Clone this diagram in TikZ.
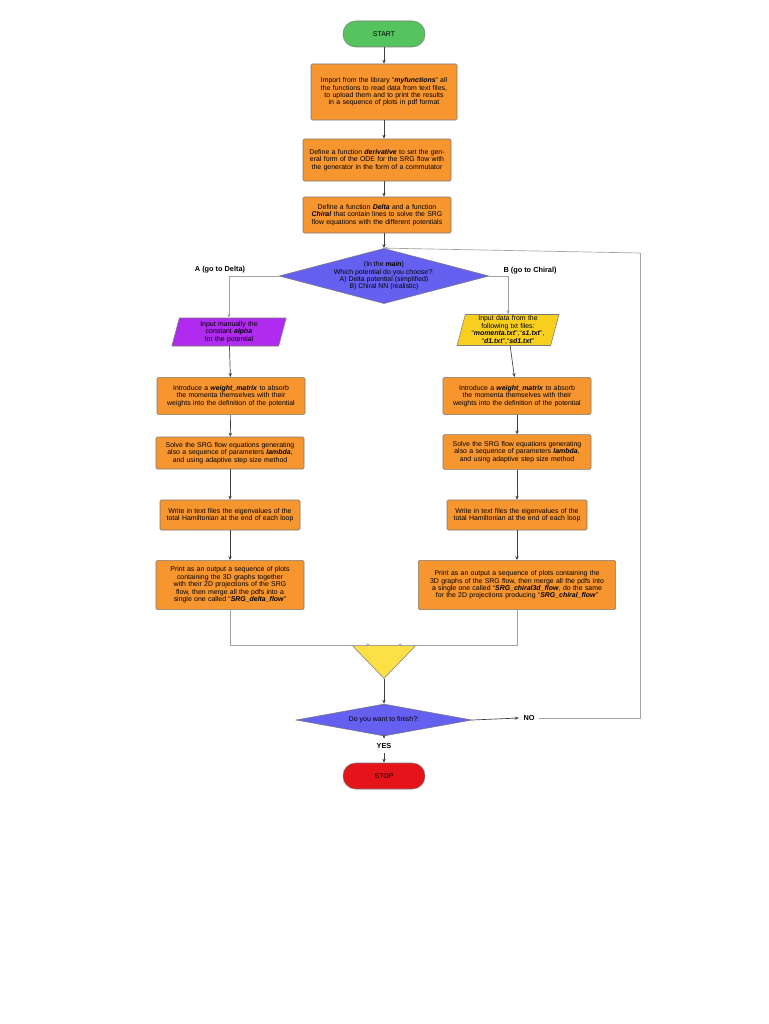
\documentclass[tikz,border=0pt]{standalone}
\usepackage{fontspec}
\setmainfont{Liberation Sans}
\usetikzlibrary{arrows.meta, positioning, shapes.geometric}
\definecolor{boxorange}{HTML}{F7952F}
\definecolor{startgreen}{HTML}{56C45E}
\definecolor{askblue}{HTML}{6660F0}
\definecolor{inpurple}{HTML}{B02AF0}
\definecolor{inyellow}{HTML}{F8CF1E}
\definecolor{mergeyellow}{HTML}{FDE046}
\definecolor{stopred}{HTML}{E5141B}
\definecolor{edgegray}{HTML}{7A7A7A}

\begin{document}
\begin{tikzpicture}[x=0.75pt, y=-0.75pt,
  font=\fontsize{5.2}{5.6}\selectfont,
  stepbox/.style={rectangle, draw=edgegray, fill=boxorange, rounded corners=1pt, align=center, inner sep=1pt},
  term/.style={rectangle, rounded corners=9.5pt, draw=edgegray, minimum width=61.5pt, minimum height=19.5pt},
  ask/.style={diamond, draw=edgegray, fill=askblue, aspect=3.8, inner sep=0pt, align=center},
  inbox/.style={trapezium, trapezium left angle=75, trapezium right angle=105, draw=edgegray, align=center, inner sep=1pt},
  lbl/.style={font=\fontsize{5.5}{6}\selectfont\bfseries},
  >={Stealth[length=3pt, width=2.5pt]},
  flow/.style={->, draw=black!75, line width=0.5pt},
  branchline/.style={->, draw=edgegray!70, line width=0.5pt}
]
\useasboundingbox (0,0) rectangle (768,1024);

\node[term, fill=startgreen] (start) at (384,34) {START};
\node[stepbox, minimum width=109.5pt, minimum height=42pt, text width=100pt] (import) at (384,92)
  {Import from the library ``\textbf{\textit{myfunctions}}'' all the functions to read data from text files, to upload them and to print the results in a sequence of plots in pdf format};
\node[stepbox, minimum width=111pt, minimum height=31.5pt, text width=104pt] (deriv) at (377,160)
  {Define a function \textbf{\textit{derivative}} to set the general form of the ODE for the SRG flow with the generator in the form of a commutator};
\node[stepbox, minimum width=111pt, minimum height=27pt, text width=104pt] (funcs) at (377,215)
  {Define a function \textbf{\textit{Delta}} and a function \textbf{\textit{Chiral}} that contain lines to solve the SRG flow equations with the different potentials};
\node[ask, minimum width=147pt, minimum height=39pt] (choose) at (384,276)
  {(In the \textbf{\textit{main}})\\Which potential do you choose?:\\A) Delta potential (simplified)\\B) Chiral NN (realistic)};
\node[lbl] (alab) at (220,270) {A (go to Delta)};
\node[lbl] (blab) at (530,271) {B (go to Chiral)};

% Delta branch
\node[inbox, fill=inpurple, minimum width=68pt, minimum height=21pt, text width=62pt] (alpha) at (229,332)
  {Input manually the constant \textbf{\textit{alpha}} for the potential};
\node[stepbox, minimum width=111pt, minimum height=28pt, text width=104pt] (wleft) at (231,396)
  {Introduce a \textbf{\textit{weight\_matrix}} to absorb the momenta themselves with their weights into the definition of the potential};
\node[stepbox, minimum width=111pt, minimum height=24pt, text width=104pt] (sleft) at (230,453)
  {Solve the SRG flow equations generating also a sequence of parameters \textbf{\textit{lambda}}, and using adaptive step size method};
\node[stepbox, minimum width=105pt, minimum height=22.5pt, text width=98pt] (eleft) at (230,515)
  {Write in text files the eigenvalues of the total Hamiltonian at the end of each loop};
\node[stepbox, minimum width=111pt, minimum height=37pt, text width=104pt] (pleft) at (230,585)
  {Print as an output a sequence of plots containing the 3D graphs together with their 2D projections of the SRG flow, then merge all the pdfs into a single one called ``\textbf{\textit{SRG\_delta\_flow}}''};

% Chiral branch
\node[inbox, fill=inyellow, minimum width=64pt, minimum height=23pt, text width=62pt] (files) at (508,330)
  {Input data from the following txt files: ``\textbf{\textit{momenta.txt}}'',``\textbf{\textit{s1.txt}}'', ``\textbf{\textit{d1.txt}}'',``\textbf{\textit{sd1.txt}}''};
\node[stepbox, minimum width=111pt, minimum height=28pt, text width=104pt] (wright) at (517,396)
  {Introduce a \textbf{\textit{weight\_matrix}} to absorb the momenta themselves with their weights into the definition of the potential};
\node[stepbox, minimum width=111pt, minimum height=26pt, text width=104pt] (sright) at (517,452)
  {Solve the SRG flow equations generating also a sequence of parameters \textbf{\textit{lambda}}, and using adaptive step size method};
\node[stepbox, minimum width=105pt, minimum height=22.5pt, text width=98pt] (eright) at (517,515)
  {Write in text files the eigenvalues of the total Hamiltonian at the end of each loop};
\node[stepbox, minimum width=148pt, minimum height=37pt, text width=142pt] (pright) at (517,585)
  {Print as an output a sequence of plots containing the 3D graphs of the SRG flow, then merge all the pdfs into a single one called ``\textbf{\textit{SRG\_chiral3d\_flow}}, do the same for the 2D projections producing ``\textbf{\textit{SRG\_chiral\_flow}}''};

% merge and finish
\node[isosceles triangle, shape border rotate=-90, isosceles triangle apex angle=88, draw=edgegray, fill=mergeyellow, minimum width=48pt, inner sep=0pt, anchor=north] (merge) at (384,645) {};
\node[ask, minimum width=132pt, minimum height=24pt] (finish) at (384,720) {Do you want to finish?:};
\node[lbl] (no) at (529,718) {NO};
\node[lbl] (yes) at (384,746) {YES};
\node[term, fill=stopred] (stop) at (384,776) {STOP};
\coordinate (loopbr) at (640,718);
\coordinate (looptr) at (640,253);

\draw[flow] (start) -- (import);
\draw[flow] (import) -- (deriv.north -| import);
\draw[flow] (deriv.south -| import) -- (funcs.north -| import);
\draw[flow] (funcs.south -| import) -- (choose);
\draw[branchline] (choose.west) -| (alpha.north);
\draw[branchline] (choose.east) -| (files.north);
\draw[flow] (alpha) -- (wleft);
\draw[flow] (wleft) -- (sleft);
\draw[flow] (sleft) -- (eleft);
\draw[flow] (eleft) -- (pleft);
\draw[flow] (files) -- (wright);
\draw[flow] (wright) -- (sright);
\draw[flow] (sright) -- (eright);
\draw[flow] (eright) -- (pright);
\draw[branchline] (pleft.south) |- (merge.north west);
\draw[branchline] (pright.south) |- (merge.north east);
\draw[flow] (merge.apex) -- (finish);
\draw[flow] (finish.east) -- (no.west);
\draw[branchline, -] (no.east) -- (loopbr) -- (looptr);
\draw[branchline] (looptr) -- (choose.north);
\draw[flow] (finish.south) -- (yes.north);
\draw[flow] (yes.south) -- (stop);
\end{tikzpicture}
\end{document}
